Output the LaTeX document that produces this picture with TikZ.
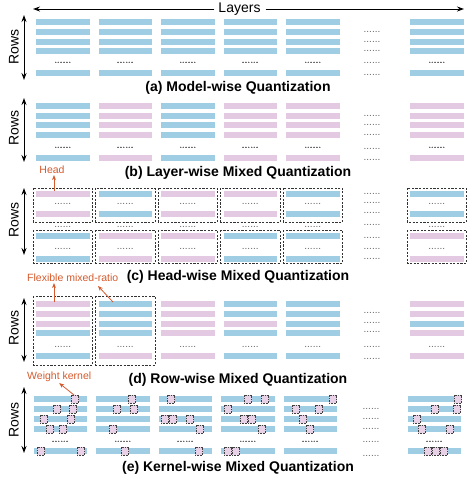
\documentclass[tikz,border=0pt]{standalone}
\usepackage{fontspec}
\setmainfont{Liberation Sans}
\definecolor{BarBlue}{RGB}{158,205,228}
\definecolor{BarPink}{RGB}{228,201,226}
\definecolor{NoteOrange}{RGB}{212,90,45}
\usetikzlibrary{arrows.meta, positioning}

\tikzset{
  elide/.style={font=\fontsize{10}{10}\selectfont, text=black!60, inner sep=0pt},
  caption/.style={font=\fontsize{14}{14}\selectfont\bfseries},
  axislabel/.style={font=\fontsize{14}{14}\selectfont, inner sep=0pt},
  note/.style={font=\fontsize{10.5}{10.5}\selectfont, text=NoteOrange, inner sep=1pt},
  notearrow/.style={-{Stealth[length=5pt,width=4pt]}, NoteOrange, line width=0.8pt},
  axisarrow/.style={-{Stealth[length=7pt,width=5pt]}, line width=0.9pt},
  rowsarrow/.style={{Stealth[length=7pt,width=5pt]}-{Stealth[length=7pt,width=5pt]}, line width=0.9pt},
  groupbox/.style={draw=black!80, dash pattern=on 2.2pt off 1.4pt, line width=0.8pt},
  kernel/.style={draw=black!75, dash pattern=on 0.8pt off 0.8pt, line width=0.6pt, fill=BarPink!85},
}
% one weight row of a layer: left x, centre y, colour
\newcommand{\rowbar}[3]{\fill[#3] (#1,#2-2.75) rectangle ++(53.5,5.5);}

\begin{document}
\begin{tikzpicture}[x=1pt, y=-1pt]
  \useasboundingbox (0,0) rectangle (474,485);

  % layer axis
  \node[axislabel] (layers) at (239.5,9) {Layers};
  \coordinate (layL) at (33,9);
  \coordinate (layR) at (464,9);
  \draw[axisarrow] (layers.west) ++(-4,0) -- (layL);
  \draw[axisarrow] (layers.east) ++(5,0) -- (layR);

  % row axes, one per panel
  \foreach \top/\bot/\mid [count=\p] in {15/80/47, 98/162/128, 188/255/220, 298/362/328, 387/453/420} {
    \coordinate (rowT\p) at (24,\top);
    \coordinate (rowB\p) at (24,\bot);
    \draw[rowsarrow] (rowT\p) -- (rowB\p);
    \node[axislabel, rotate=90] (rows\p) at (14,\mid) {Rows};
  }

  % (a) model-wise
  \foreach \xl [count=\c] in {36,98.5,161,223.5,286,410} {
    \foreach \y in {22,32,42,51,73} \rowbar{\xl}{\y}{BarBlue}
    \node[elide] (dotsA\c) at (\xl+26.75,63) {......};
  }
  \foreach \y [count=\r] in {32,42,51,63,75}
    \node[elide] (midA\r) at (372,\y) {......};
  \node[caption] (capA) at (238,88) {(a) Model-wise Quantization};

  % (b) layer-wise
  \foreach \xl/\col [count=\c] in {36/BarBlue, 98.5/BarPink, 161/BarBlue, 223.5/BarPink, 286/BarPink, 410/BarPink} {
    \foreach \y in {106,116,125,135,158} \rowbar{\xl}{\y}{\col}
    \node[elide] (dotsB\c) at (\xl+26.75,148) {......};
  }
  \foreach \y [count=\r] in {116,125,135,149,160}
    \node[elide] (midB\r) at (372,\y) {......};
  \node[caption] (capB) at (238,173) {(b) Layer-wise Mixed Quantization};

  % (c) head-wise
  \node[note] (head) at (52,170) {Head};
  \coordinate (headTail) at (54,193);
  \draw[notearrow] (headTail) -- (headTail |- head.south);
  \foreach \xl/\ca/\cb [count=\c] in {36/BarPink/BarBlue, 98.5/BarBlue/BarPink, 161/BarPink/BarPink,
                                     223.5/BarPink/BarBlue, 286/BarBlue/BarBlue, 410/BarBlue/BarPink} {
    \draw[groupbox] (\xl-3,188) rectangle ++(59.5,34);
    \rowbar{\xl}{194}{\ca}
    \rowbar{\xl}{214}{\ca}
    \node[elide] (dotsC\c) at (\xl+26.75,204) {......};
    \node[elide] (gapC\c) at (\xl+26.75,227) {......};
    \draw[groupbox] (\xl-3,230) rectangle ++(59.5,33);
    \rowbar{\xl}{236}{\cb}
    \rowbar{\xl}{259}{\cb}
    \node[elide] (dotsCC\c) at (\xl+26.75,249) {......};
  }
  \foreach \y [count=\r] in {194,203,213,225,238,249,259}
    \node[elide] (midC\r) at (372,\y) {......};
  \node[caption] (capC) at (238,277) {(c) Head-wise Mixed Quantization};

  % (d) row-wise
  \node[note, anchor=west] (flex) at (26,278) {Flexible mixed-ratio};
  \foreach \xl/\ca/\cb/\cc/\cd/\ce [count=\c] in {
      36/BarPink/BarPink/BarPink/BarBlue/BarBlue,
      98.5/BarBlue/BarBlue/BarBlue/BarBlue/BarPink,
      161/BarPink/BarPink/BarPink/BarPink/BarPink,
      223.5/BarBlue/BarBlue/BarPink/BarBlue/BarBlue,
      286/BarBlue/BarBlue/BarBlue/BarBlue/BarBlue,
      410/BarPink/BarPink/BarBlue/BarPink/BarPink} {
    \rowbar{\xl}{304}{\ca}
    \rowbar{\xl}{314}{\cb}
    \rowbar{\xl}{324}{\cc}
    \rowbar{\xl}{333}{\cd}
    \rowbar{\xl}{356}{\ce}
    \node[elide] (dotsD\c) at (\xl+26.75,347) {......};
  }
  \draw[groupbox] (33,296) rectangle ++(59.5,69);
  \draw[groupbox] (95.5,296) rectangle ++(59.5,69);
  \coordinate (flexTailA) at (54,302);
  \coordinate (flexTailB) at (113,302);
  \draw[notearrow] (flexTailA) -- (flexTailA |- flex.south);
  \draw[notearrow] (flexTailB) -- (98,286);
  \foreach \y [count=\r] in {313,323,332,347,359}
    \node[elide] (midD\r) at (372,\y) {......};
  \node[caption] (capD) at (238,380) {(d) Row-wise Mixed Quantization};

  % (e) kernel-wise
  \node[note, anchor=west] (kern) at (26,377) {Weight kernel};
  \foreach \xl [count=\c] in {33.5,96,158.5,221,283.5,407.5} {
    \foreach \y in {399,409,419,429,451} \rowbar{\xl}{\y}{BarBlue}
    \node[elide] (dotsE\c) at (\xl+26.75,442) {......};
  }
  \foreach \kx/\ky in {75/399, 132/399, 171/399, 248/399, 265/399, 333/399, 458/399,
                       57/409, 73/409, 117/409, 134/409, 228/409, 296/409, 319/409, 435/409, 457/409,
                       44/419, 71/419, 165/419, 173/419, 190/419, 244/419, 252/419, 303/419, 417/419,
                       50/429, 63/429, 113/429, 200/429, 262/429, 310/429, 422/429, 450/429,
                       41/451, 81/451, 125/451, 199/451, 228/451, 236/451, 428/451, 436/451, 444/451}
    \draw[kernel] (\kx-3.7,\ky-4.2) rectangle ++(7.4,8.4);
  \coordinate (kernTail) at (74,395);
  \draw[notearrow] (kernTail) -- (kern.south);
  \foreach \y [count=\r] in {409,419,429,442,456}
    \node[elide] (midE\r) at (371,\y) {......};
  \node[caption] (capE) at (238,468) {(e) Kernel-wise Mixed Quantization};
\end{tikzpicture}
\end{document}
